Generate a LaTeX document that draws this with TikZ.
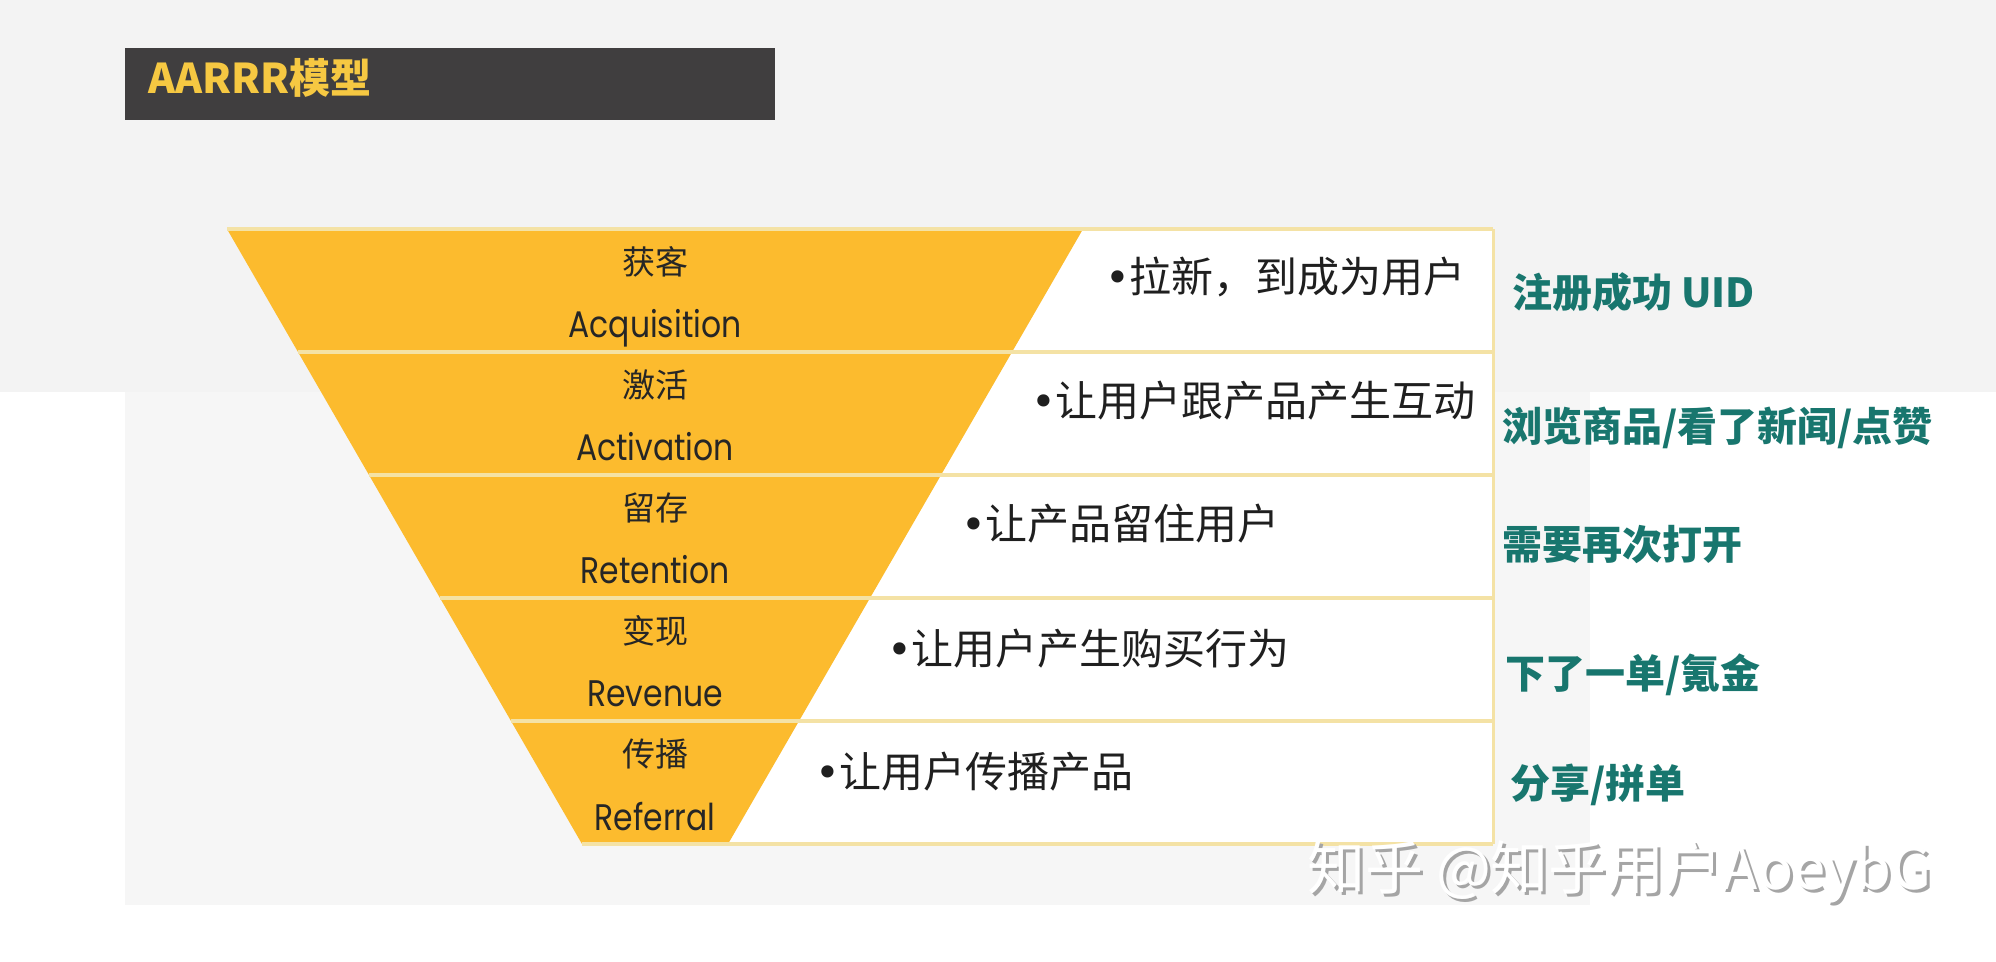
\documentclass[tikz,border=0pt]{standalone}
\usepackage{fontspec}
\newfontfamily\cjk{Noto Sans CJK SC}
\newfontfamily\gothic{Poppins}[FakeStretch=0.85]
\newfontfamily\bulfont{DejaVu Sans}
\definecolor{bgtop}{RGB}{243,243,243}
\definecolor{bglow}{RGB}{246,246,246}
\definecolor{titlebar}{RGB}{64,62,63}
\definecolor{titletext}{RGB}{246,200,66}
\definecolor{funnelcol}{RGB}{252,187,46}
\definecolor{rulecol}{RGB}{244,226,165}
\definecolor{tealcol}{RGB}{24,118,110}
\definecolor{shadowcol}{RGB}{165,165,165}
\tikzset{
  every node/.style={inner sep=0pt, outer sep=0pt},
  stagecn/.style={anchor=base, text=black!85, font=\cjk\fontsize{33}{40}\selectfont},
  stageen/.style={anchor=base, text=black!85, font=\gothic\fontsize{37}{44}\selectfont},
  bullettext/.style={anchor=base west, text=black!88, font=\cjk\fontsize{42}{50}\selectfont},
  metric/.style={anchor=base west, text=tealcol, font=\cjk\bfseries\fontsize{40}{48}\selectfont},
  rowrule/.style={rulecol, line width=3.5pt},
  wmark/.style={anchor=base west, font=\cjk\fontsize{58}{66}\selectfont}
}
\newcommand{\bul}{{\bulfont •}}
\begin{document}
\begin{tikzpicture}[x=1pt,y=-1pt]
\useasboundingbox (0,0) rectangle (1996,961);
% background
\fill[white] (0,0) rectangle (1996,961);
\fill[bgtop] (0,0) rectangle (1996,392);
\fill[bglow] (125,392) rectangle (1590,905);
% title
\fill[titlebar] (125,48) rectangle (775,120);
\node[anchor=base west, text=titletext, font=\cjk\bfseries\fontsize{41}{48}\selectfont] (title) at (148,93) {AARRR模型};
% table area and funnel
\fill[white] (1083,229) -- (1493,229) -- (1493,844) -- (728,844) -- cycle;
\fill[funnelcol] (227,229) -- (1083,229) -- (728,844) -- (582,844) -- cycle;
\draw[rowrule] (227,229) -- (1493,229);
\draw[rowrule] (298,352) -- (1493,352);
\draw[rowrule] (369,475) -- (1493,475);
\draw[rowrule] (440,598) -- (1493,598);
\draw[rowrule] (511,721) -- (1493,721);
\draw[rowrule] (582,844) -- (1493,844);
\draw[rulecol, line width=3pt] (1493,229) -- (1493,844);
% stage labels
\node[stagecn] (cn1) at (655,274.5) {获客};
\node[stageen] (en1) at (655,337) {Acquisition};
\node[stagecn] (cn2) at (655,397.5) {激活};
\node[stageen] (en2) at (655,460) {Activation};
\node[stagecn] (cn3) at (655,520.5) {留存};
\node[stageen] (en3) at (655,583) {Retention};
\node[stagecn] (cn4) at (655,643.5) {变现};
\node[stageen] (en4) at (655,706) {Revenue};
\node[stagecn] (cn5) at (655,766.5) {传播};
\node[stageen] (en5) at (655,830) {Referral};
% descriptions
\node[bullettext] (d1) at (1105,292) {\bul 拉新，到成为用户};
\node[bullettext] (d2) at (1031,416) {\bul 让用户跟产品产生互动};
\node[bullettext] (d3) at (961,539) {\bul 让产品留住用户};
\node[bullettext] (d4) at (887,664) {\bul 让用户产生购买行为};
\node[bullettext] (d5) at (815,787) {\bul 让用户传播产品};
% metrics
\node[metric] (m1) at (1512,307) {注册成功 UID};
\node[metric] (m2) at (1502,441) {浏览商品/看了新闻/点赞};
\node[metric] (m3) at (1502,559) {需要再次打开};
\node[metric] (m4) at (1505,688) {下了一单/氪金};
\node[metric] (m5) at (1510,798) {分享/拼单};
% watermark
\node[wmark, text=shadowcol] (wms) at (1310,892) {知乎 @知乎用户AoeybG};
\node[wmark, text=white] (wm) at (1307,889) {知乎 @知乎用户AoeybG};
\end{tikzpicture}
\end{document}
